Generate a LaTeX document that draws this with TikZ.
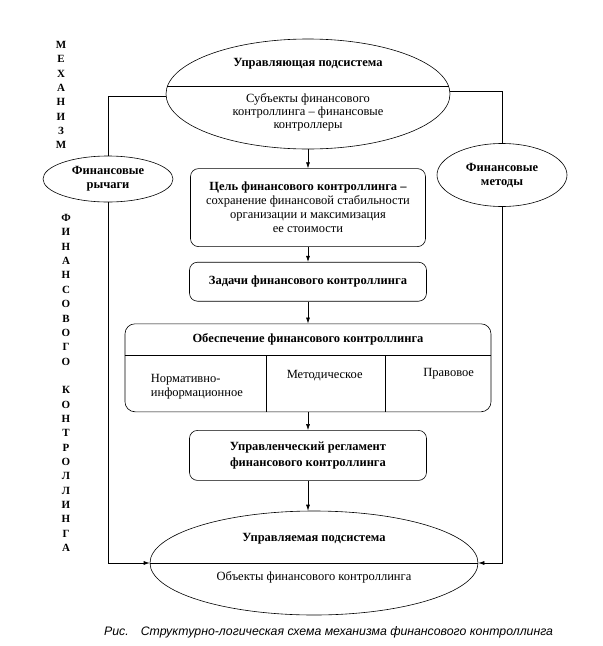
\documentclass[tikz,border=0pt]{standalone}
\usepackage{fontspec}
\setmainfont{Liberation Serif}
\newfontfamily\capfont{Liberation Sans}
\usetikzlibrary{positioning,arrows.meta,shapes.geometric,calc}
\tikzset{
  subsys/.style={ellipse, draw, line width=0.6pt, inner sep=0pt},
  tool/.style={ellipse, draw, line width=0.6pt, inner sep=0pt, align=center,
               font=\fontsize{12.5}{14}\selectfont\bfseries},
  stage/.style={rectangle, rounded corners=8pt, draw, line width=0.6pt, inner sep=0pt,
                align=center, font=\fontsize{12.5}{14}\selectfont},
  txt/.style={inner sep=0pt, align=center, font=\fontsize{12.5}{13}\selectfont},
  hdr/.style={txt, font=\fontsize{12.5}{14}\selectfont\bfseries},
  vword/.style={inner sep=0pt, align=center, font=\fontsize{11}{14.35}\selectfont\bfseries},
  link/.style={line width=0.6pt},
  flow/.style={-{Latex[length=6pt,width=4pt]}, line width=0.6pt}
}
\begin{document}
\begin{tikzpicture}[x=1pt, y=-1pt]
\useasboundingbox (0,0) rectangle (603,646);
% upper subsystem
\node[subsys, minimum width=284pt, minimum height=110pt] (ctrl) at (308,94) {};
\draw[link] (ctrl.177) -- (ctrl.3);
\node[hdr] (ctrlh) at (308,64) {Управляющая подсистема};
\node[txt] (subj) at (308,112) {Субъекты финансового\\контроллинга -- финансовые\\контроллеры};
% levers and methods
\node[tool, minimum width=130pt, minimum height=46pt] (lever) at (108,179) {Финансовые\\рычаги};
\node[tool, minimum width=130pt, minimum height=63pt] (meth) at (502,175) {Финансовые\\методы};
% main chain
\node[stage, minimum width=235pt, minimum height=78pt, below=19pt of ctrl] (goal)
  {\textbf{Цель финансового контроллинга --}\\сохранение финансовой стабильности\\организации и максимизация\\ее стоимости};
\node[stage, minimum width=237pt, minimum height=39pt, below=15pt of goal, font=\fontsize{12.5}{14}\selectfont\bfseries] (tasks)
  {Задачи финансового контроллинга};
\node[stage, rounded corners=10pt, minimum width=366pt, minimum height=88pt, below=22pt of tasks] (supp) {};
\node[stage, minimum width=237pt, minimum height=50pt, below=18pt of supp, font=\fontsize{12.5}{16}\selectfont\bfseries] (regl)
  {Управленческий регламент\\финансового контроллинга};
\node[subsys, minimum width=328pt, minimum height=104pt, below=30pt of regl, xshift=6pt] (obj) {};
% inside the support box
\coordinate (sdl) at ($(supp.north west)+(0,32)$);
\coordinate (sc1) at ($(sdl)+(142,0)$);
\coordinate (sc2) at ($(sdl)+(261,0)$);
\draw[link] (sdl) -- (sdl -| supp.east);
\draw[link] (sc1) -- (sc1 |- supp.south);
\draw[link] (sc2) -- (sc2 |- supp.south);
\node[hdr] (supph) at ($(supp.north)+(0,16)$) {Обеспечение финансового контроллинга};
\node[txt, align=left, anchor=west, font=\fontsize{12.5}{14}\selectfont] (norm) at ($(sdl)+(26,31)$) {Нормативно-\\информационное};
\node[txt] (meto) at ($(sdl)+(200,20)$) {Методическое};
\node[txt] (prav) at ($(sdl)+(324,18)$) {Правовое};
% lower subsystem
\draw[link] (obj.west) -- (obj.east);
\node[hdr] (objh) at ($(obj.center)+(0,-24)$) {Управляемая подсистема};
\node[txt] (objs) at ($(obj.center)+(0,14)$) {Объекты финансового контроллинга};
% connectors
\draw[link] (ctrl.181.5) -| (lever.north);
\draw[link] (ctrl.1.5) -| (meth.north);
\draw[flow] (ctrl.south) -- (goal.north);
\draw[flow] (goal.south) -- (tasks.north);
\draw[flow] (tasks.south) -- (supp.north);
\draw[flow] (supp.south) -- (regl.north);
\draw[flow] (regl.south) -- (regl.south |- obj.north);
\draw[flow] (lever.south) |- (obj.west);
\draw[flow] (meth.south) |- (obj.east);
% vertical title
\node[vword] (mech) at (61,95) {М\\Е\\Х\\А\\Н\\И\\З\\М};
\node[vword] (fc) at (66,383) {Ф\\И\\Н\\А\\Н\\С\\О\\В\\О\\Г\\О\\[14.35pt]К\\О\\Н\\Т\\Р\\О\\Л\\Л\\И\\Н\\Г\\А};
% caption
\node[anchor=west, inner sep=0pt, font=\capfont\itshape\fontsize{12.3}{14}\selectfont] (cap) at (104,632)
  {Рис.\hspace{12pt}Структурно-логическая схема механизма финансового контроллинга};
\end{tikzpicture}
\end{document}
